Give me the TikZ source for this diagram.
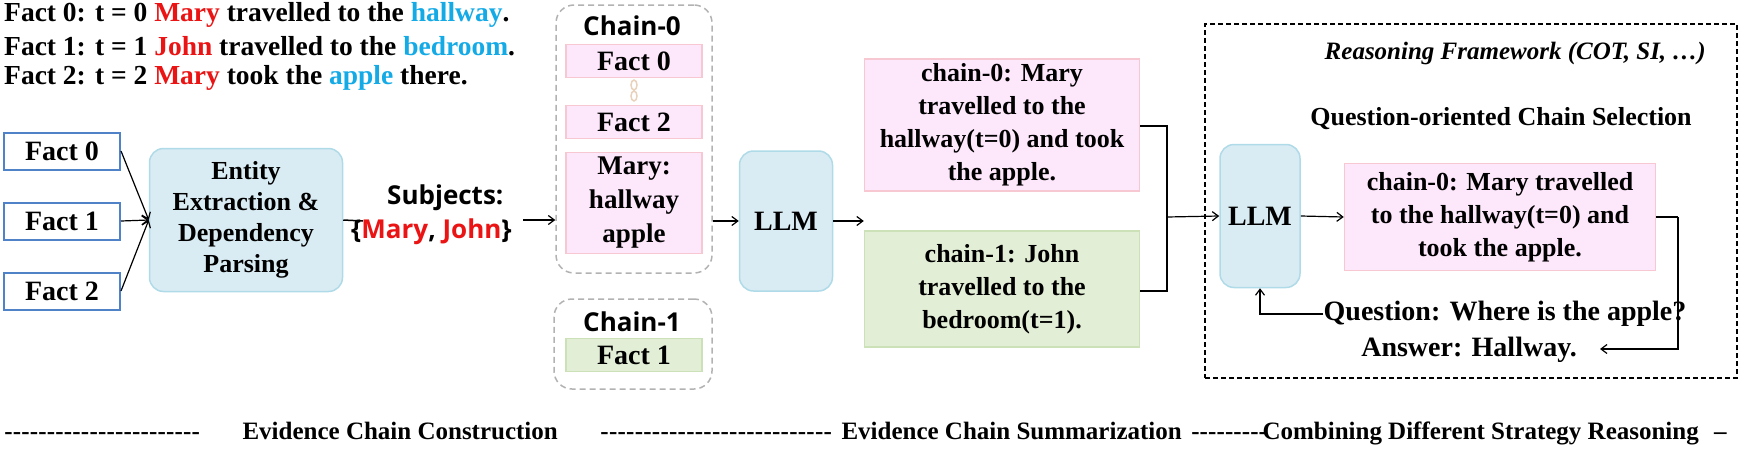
\documentclass[tikz,border=0pt]{standalone}
\usepackage{fontspec}
\setmainfont{Liberation Serif}
\newfontfamily\sansf{Open Sans}
\usetikzlibrary{arrows.meta}
\definecolor{myred}{RGB}{235,20,20}
\definecolor{myblue}{RGB}{20,170,230}
\definecolor{bluebd}{RGB}{80,130,200}
\definecolor{llmfill}{RGB}{218,236,243}
\definecolor{llmbd}{RGB}{175,218,232}
\definecolor{pinkfill}{RGB}{253,231,251}
\definecolor{pinkbd}{RGB}{248,200,210}
\definecolor{greenfill}{RGB}{226,238,214}
\definecolor{greenbd}{RGB}{205,225,185}
\newcommand{\dashfill}[1]{\hbox to #1{\xleaders\hbox{-}\hfill}}
\newcommand{\seg}[2]{\hbox to #1{\hss #2\hss}}
\tikzset{
 x=1pt,y=-1pt,
 every node/.style={font=\fontsize{28}{32}\selectfont\bfseries, align=center, inner sep=0pt},
 mid/.style={font=\fontsize{26}{33}\selectfont\bfseries},
 fact/.style={draw=bluebd, line width=2pt, fill=white},
 llm/.style={draw=llmbd, line width=1.5pt, fill=llmfill, rounded corners=14pt},
 pink/.style={draw=pinkbd, line width=1.5pt, fill=pinkfill},
 green/.style={draw=greenbd, line width=1.5pt, fill=greenfill},
 chainbox/.style={draw=gray!60, line width=1.5pt, rounded corners=18pt, dash pattern=on 6pt off 4pt},
 arr/.style={-{Straight Barb[length=6pt,width=9pt]}, line width=1.2pt},
 ln/.style={line width=1.5pt},
 sans/.style={font=\sansf\fontsize{26}{30}\selectfont\bfseries},
 top/.style={anchor=west,font=\fontsize{27.5}{30}\selectfont\bfseries},
}
\begin{document}
\begin{tikzpicture}
\useasboundingbox (0,0) rectangle (1745,450);
% top text
\node[top] (l0) at (4,15) {Fact 0: t = 0 \textcolor{myred}{Mary} travelled to the \textcolor{myblue}{hallway}.};
\node[top] (l1) at (4,46) {Fact 1: t = 1 \textcolor{myred}{John} travelled to the \textcolor{myblue}{bedroom}.};
\node[top] (l2) at (4,78) {Fact 2: t = 2 \textcolor{myred}{Mary} took the \textcolor{myblue}{apple} there.};
% facts
\node[fact, minimum width=116, minimum height=37] (f0) at (62,151) {Fact 0};
\node[fact, minimum width=116, minimum height=37] (f1) at (62,221) {Fact 1};
\node[fact, minimum width=116, minimum height=37] (f2) at (62,291) {Fact 2};
\node[llm, minimum width=193, minimum height=143, font=\fontsize{26}{31}\selectfont\bfseries] (ent) at (246,220) {Entity\\Extraction \&\\Dependency\\Parsing};
\draw[arr] (f0.east) -- (ent.west);
\draw[arr] (f1.east) -- (ent.west);
\draw[arr] (f2.east) -- (ent.west);
\coordinate (s0) at (363,221);
\draw[ln] (ent.east) -- (s0);
\node[sans, anchor=west] (subj) at (387,198) {Subjects:};
\node[sans, anchor=west] (ents) at (351,232) {\{\textcolor{myred}{Mary},\ \textcolor{myred}{John}\}};
\coordinate (s1) at (523,220);
% chain-0
\node[chainbox, minimum width=156, minimum height=268] (c0) at (634,139) {};
\draw[arr] (s1) -- (c0.west |- s1);
\node[sans] (c0t) at (632,26) {Chain-0};
\node[pink, minimum width=136, minimum height=33] (p0) at (634,61) {Fact 0};
\node[pink, minimum width=136, minimum height=33] (p2) at (634,122) {Fact 2};
\node[pink, minimum width=136, minimum height=101, font=\fontsize{27}{34}\selectfont\bfseries] (pm) at (634,203) {Mary:\\hallway\\apple};
\draw[draw=brown!35, line width=1.5pt] (634,85) ellipse (3pt and 5pt) (634,96) ellipse (3pt and 5pt);
% chain-1
\node[chainbox, minimum width=158, minimum height=90] (c1) at (633,344) {};
\node[sans] (c1t) at (632,322) {Chain-1};
\node[green, minimum width=136, minimum height=33] (g1) at (634,355) {Fact 1};
% llm1
\node[llm, minimum width=93, minimum height=140] (llm1) at (786,221) {LLM};
\draw[arr] (c0.east |- llm1) -- (llm1.west);
\node[pink, mid, minimum width=275, minimum height=132] (sum0) at (1002,125) {chain-0: Mary\\travelled to the\\hallway(t=0) and took\\the apple.};
\node[green, minimum width=275, minimum height=116] (sum1) at (1002,289) {};
\node[mid] (sum1t) at (1002,289) {chain-1: John\\travelled to the\\bedroom(t=1).};
\draw[arr] (llm1.east) -- (sum0.west |- llm1);
% right frame
\node[draw, line width=1.5pt, dash pattern=on 5pt off 3pt, minimum width=532, minimum height=354] (frame) at (1471,201) {};
\node[anchor=east, font=\fontsize{25}{28}\selectfont\bfseries\itshape] (rf) at (1706,53) {Reasoning Framework (COT, SI, …)};
\node[mid] (qocs) at (1501,119) {Question-oriented Chain Selection};
\node[llm, minimum width=80, minimum height=143] (llm2) at (1260,216) {LLM};
\node[pink, mid, minimum width=311, minimum height=107] (sel) at (1500,217) {chain-0: Mary travelled\\to the hallway(t=0) and\\took the apple.};
\coordinate (j) at (1167,217);
\draw[ln] (sum0.east |- 0,126) -| (j);
\draw[ln] (sum1.east |- 0,291) -| (j);
\draw[arr] (j) -- (llm2.west);
\draw[arr] (llm2.east) -- (sel.west);
\node (q) at (1505,314) {Question: Where is the apple?};
\node (a) at (1469,350) {Answer: Hallway.};
\draw[arr] (q.west) -| (llm2.south);
\coordinate (r0) at (1678,217);
\draw[ln] (sel.east) -- (r0);
\draw[arr] (r0) |- (1600,349);
% bottom
\node[anchor=west, font=\fontsize{25}{28}\selectfont\bfseries] (bot) at (4,433) {\dashfill{196pt}\seg{400pt}{Evidence Chain Construction}\dashfill{232pt}\seg{359pt}{Evidence Chain Summarization}\dashfill{76pt}\seg{427pt}{Combining Different Strategy Reasoning}\seg{46pt}{\ --}};
\end{tikzpicture}
\end{document}
